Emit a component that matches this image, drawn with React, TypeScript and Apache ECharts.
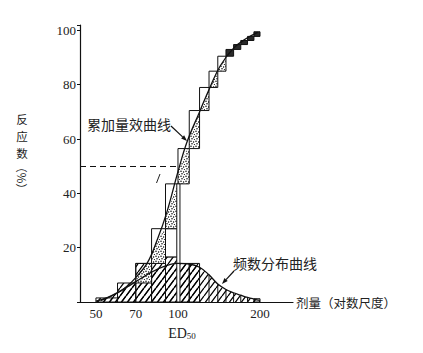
import React, { useEffect, useRef } from "react";
import * as echarts from "echarts";

// ---- data ----
const xLabelValues = [50, 70, 100, 200];
const yTickInterval = 20;

// frequency histogram bars (dose from, dose to, height %)
const freqBarFrom = [50, 60, 70, 80, 90, 100, 110, 190];
const freqBarTo = [60, 70, 80, 90, 100, 110, 120, 200];
const freqBarTop = [1.5, 7, 14.2, 14.2, 16.6, 14.2, 14.2, 1.2];

// bin edges under the falling part of the frequency curve
const freqEdgeDose = [130, 140, 150, 160, 170, 180];
const freqEdgeTop = [10, 6.6, 4.6, 3.4, 2.5, 1.7];

// frequency distribution curve
const freqCurveDose = [50, 55, 60, 65, 70, 80, 90, 100, 110, 120, 130, 140, 150, 160, 170, 180, 190, 200];
const freqCurveVal = [0.3, 1.6, 3.5, 5.5, 7.5, 11, 13.3, 14.2, 14, 12.8, 10, 6.6, 4.6, 3.4, 2.5, 1.7, 1.1, 0.6];

// cumulative step boxes
const cumBoxFrom = [70, 80, 90, 100, 110, 120, 130, 140, 150, 160, 170, 180, 190];
const cumBoxTo = [80, 90, 100, 110, 120, 130, 140, 150, 160, 170, 180, 190, 200];
const cumBoxLow = [7, 14.2, 27, 43.5, 56.5, 70.5, 79, 85, 90.5, 93, 94.8, 96.3, 97.8];
const cumBoxHigh = [14.2, 27, 43.5, 56.5, 70.5, 79, 85, 90.5, 93, 94.8, 96.3, 97.8, 99.5];
const cumBoxDark = [0, 0, 0, 0, 0, 0, 0, 0, 1, 1, 1, 1, 1];

// open box between the 90-100 frequency bar and the cumulative box
const openBox = [90, 100, 16.6, 27];
// narrow double line at ED50
const ed50Strip = [99, 101.7, 0, 43.5];

// cumulative dose-effect curve
const cumCurveDose = [52, 60, 65, 70, 77, 84, 91, 100, 108, 120, 131, 143, 160, 178, 196];
const cumCurveVal = [0.5, 3.3, 5.8, 9, 14.2, 23, 33, 48, 59, 70, 79, 87, 93.5, 97, 99.3];

const ed50Dose = 100;
const ed50Level = 50;
const xMin = 43.7;
const xMax = 264.3;

// ---- helpers ----
const svgUrl = (s: string) => "data:image/svg+xml;charset=utf-8," + encodeURIComponent(s);
const hatch: any = {
  image: svgUrl(
    "<svg xmlns='http://www.w3.org/2000/svg' width='6' height='8'><path d='M0,0 L6,-8 M0,8 L6,0 M0,16 L6,8' stroke='#000' stroke-width='1.3' fill='none'/></svg>"
  ),
  repeat: "repeat",
  imageWidth: 6,
  imageHeight: 8,
};
const dots: any = {
  image: svgUrl(
    "<svg xmlns='http://www.w3.org/2000/svg' width='5' height='5'><rect width='5' height='5' fill='white'/><g fill='#000'><circle cx='1' cy='1.2' r='0.75'/><circle cx='3.6' cy='2' r='0.7'/><circle cx='2' cy='3.8' r='0.75'/><circle cx='4.4' cy='4.5' r='0.6'/></g></svg>"
  ),
  repeat: "repeat",
  imageWidth: 5,
  imageHeight: 5,
};

const cumAt = (x: number) => {
  const lx = Math.log10(x);
  if (x <= cumCurveDose[0]) return cumCurveVal[0];
  for (let i = 1; i < cumCurveDose.length; i++) {
    if (x <= cumCurveDose[i]) {
      const a = Math.log10(cumCurveDose[i - 1]);
      const b = Math.log10(cumCurveDose[i]);
      const t = (lx - a) / (b - a);
      return cumCurveVal[i - 1] + t * (cumCurveVal[i] - cumCurveVal[i - 1]);
    }
  }
  return cumCurveVal[cumCurveVal.length - 1];
};

const arrow = (x1: number, y1: number, x2: number, y2: number) => {
  const dx = x2 - x1, dy = y2 - y1;
  const L = Math.hypot(dx, dy);
  const ux = dx / L, uy = dy / L;
  const px = -uy, py = ux;
  const bx = x2 - ux * 6, by = y2 - uy * 6;
  return [
    { type: "line", shape: { x1, y1, x2: bx, y2: by }, style: { stroke: "#111", lineWidth: 1.2 } },
    {
      type: "polygon",
      shape: { points: [[x2, y2], [bx + px * 2.2, by + py * 2.2], [bx - px * 2.2, by - py * 2.2]] },
      style: { fill: "#111" },
    },
  ];
};

const serif = "'Liberation Serif', 'DejaVu Serif', serif";
const cjk = "'Noto Sans CJK SC', sans-serif";

export default function App() {
  const ref = useRef<HTMLDivElement>(null);
  useEffect(() => {
    if (!ref.current) return;
    const chart = echarts.init(ref.current, null, { renderer: "svg" });

    const freqBars = freqBarFrom.map((f, i) => [f, freqBarTo[i], 0, freqBarTop[i], 3]);
    const edges = freqEdgeDose.map((d, i) => [d, d, 0, freqEdgeTop[i], 5]);
    const cumBoxes = cumBoxFrom.map((f, i) => [f, cumBoxTo[i], cumBoxLow[i], cumBoxHigh[i], cumBoxDark[i] ? 2 : 1]);
    const extra = [
      [openBox[0], openBox[1], openBox[2], openBox[3], 4],
      [ed50Strip[0], ed50Strip[1], ed50Strip[2], ed50Strip[3], 4],
    ];

    const renderItem = (params: any, api: any) => {
      const x0 = api.value(0), x1 = api.value(1), lo = api.value(2), hi = api.value(3), kind = api.value(4);
      const a = api.coord([x0, lo]);
      const b = api.coord([x1, hi]);
      if (kind === 5) {
        return {
          type: "line",
          shape: { x1: a[0], y1: a[1], x2: a[0], y2: b[1] },
          style: { stroke: "#111", lineWidth: 1 },
        };
      }
      const rect = { x: a[0], y: b[1], width: b[0] - a[0], height: a[1] - b[1] };
      const children: any[] = [];
      if (kind === 1) {
        const xs = [x0, ...cumCurveDose.filter((d) => d > x0 && d < x1), x1];
        const pts: number[][] = [api.coord([x0, lo]), api.coord([x1, lo])];
        for (let i = xs.length - 1; i >= 0; i--) {
          const v = Math.min(hi, Math.max(lo, cumAt(xs[i])));
          pts.push(api.coord([xs[i], v]));
        }
        children.push({ type: "polygon", shape: { points: pts }, style: { fill: dots, stroke: null } });
      } else if (kind === 2) {
        children.push({ type: "rect", shape: rect, style: { fill: "#2a2a2a" } });
      } else if (kind === 3) {
        children.push({ type: "rect", shape: rect, style: { fill: hatch } });
      } else if (kind === 4) {
        children.push({ type: "rect", shape: rect, style: { fill: "#fff" } });
      }
      children.push({ type: "rect", shape: rect, style: { fill: null, stroke: "#111", lineWidth: 1 } });
      return { type: "group", children };
    };

    const freqData = freqCurveDose.map((d, i) => [d, freqCurveVal[i]]);
    const cumData = cumCurveDose.map((d, i) => [d, cumCurveVal[i]]);

    const vText = (ch: string, y: number) => ({
      type: "text",
      x: 22,
      y,
      style: { text: ch, font: `11.5px ${cjk}`, fill: "#222", align: "center", verticalAlign: "middle" },
    });

    chart.setOption({
      animation: false,
      backgroundColor: "#fff",
      grid: { left: 80, right: 130, top: 25, bottom: 51 },
      xAxis: {
        type: "log",
        logBase: 10,
        min: xMin,
        max: xMax,
        axisLine: { lineStyle: { color: "#111", width: 1.2 } },
        axisTick: { show: false },
        splitLine: { show: false },
        axisLabel: {
          customValues: xLabelValues,
          color: "#222",
          fontFamily: serif,
          fontSize: 13,
          margin: 5,
        },
      },
      yAxis: {
        type: "value",
        min: 0,
        max: 102,
        interval: yTickInterval,
        axisLine: { show: true, lineStyle: { color: "#111", width: 1.2 } },
        axisTick: { show: true, length: 3, lineStyle: { color: "#111" } },
        splitLine: { show: false },
        axisLabel: {
          color: "#222",
          fontFamily: serif,
          fontSize: 13,
          margin: 4,
          formatter: (v: number) => (v === 0 || v > 100 ? "" : String(v)),
        },
      },
      series: [
        {
          type: "line",
          data: freqData,
          smooth: 0.4,
          symbol: "none",
          lineStyle: { width: 0 },
          areaStyle: { color: hatch, opacity: 1 },
          silent: true,
          z: 1,
        },
        {
          type: "custom",
          renderItem,
          data: [...freqBars, ...edges],
          encode: { x: [0, 1], y: [2, 3] },
          silent: true,
          z: 2,
        },
        {
          type: "custom",
          renderItem,
          data: [...extra.slice(0, 1), ...cumBoxes, ...extra.slice(1)],
          encode: { x: [0, 1], y: [2, 3] },
          silent: true,
          z: 3,
        },
        {
          type: "line",
          data: freqData,
          smooth: 0.4,
          symbol: "none",
          lineStyle: { color: "#111", width: 1.3 },
          silent: true,
          z: 4,
        },
        {
          type: "line",
          data: cumData,
          smooth: 0.4,
          symbol: "none",
          lineStyle: { color: "#111", width: 1.3 },
          silent: true,
          z: 5,
          markLine: {
            silent: true,
            symbol: "none",
            label: { show: false },
            lineStyle: { color: "#111", width: 1.2, type: [6, 4] },
            data: [[{ coord: [xMin, ed50Level] }, { coord: [ed50Dose, ed50Level] }]],
          },
        },
      ],
      graphic: [
        vText("反", 119),
        vText("应", 136),
        vText("数", 153),
        {
          type: "text",
          x: 22,
          y: 178,
          rotation: -Math.PI / 2,
          style: { text: "（%）", font: `11.5px ${cjk}`, fill: "#222", align: "center", verticalAlign: "middle" },
        },
        { type: "text", x: 87, y: 124, style: { text: "累加量效曲线", font: `14px ${cjk}`, fill: "#222", verticalAlign: "middle" } },
        { type: "text", x: 233, y: 263, style: { text: "频数分布曲线", font: `14px ${cjk}`, fill: "#222", verticalAlign: "middle" } },
        { type: "text", x: 296, y: 302, style: { text: "剂量（对数尺度）", font: `12.5px ${cjk}`, fill: "#222", verticalAlign: "middle" } },
        {
          type: "text",
          x: 182,
          y: 333,
          style: {
            text: "{a|ED}{b|50}",
            align: "center",
            verticalAlign: "middle",
            rich: {
              a: { fontFamily: serif, fontSize: 14, fill: "#222" },
              b: { fontFamily: serif, fontSize: 9, fill: "#222", padding: [6, 0, 0, 0] },
            },
          },
        },
        ...arrow(171, 126, 187, 141),
        ...arrow(234, 271, 222, 284),
        { type: "line", shape: { x1: 156.5, y1: 183, x2: 160, y2: 174 }, style: { stroke: "#222", lineWidth: 1 } },
      ],
    });
    return () => chart.dispose();
  }, []);
  return (
    <div
      ref={ref}
      style={{ position: "fixed", left: 0, top: 0, width: 423, height: 353, background: "#fff" }}
    />
  );
}
